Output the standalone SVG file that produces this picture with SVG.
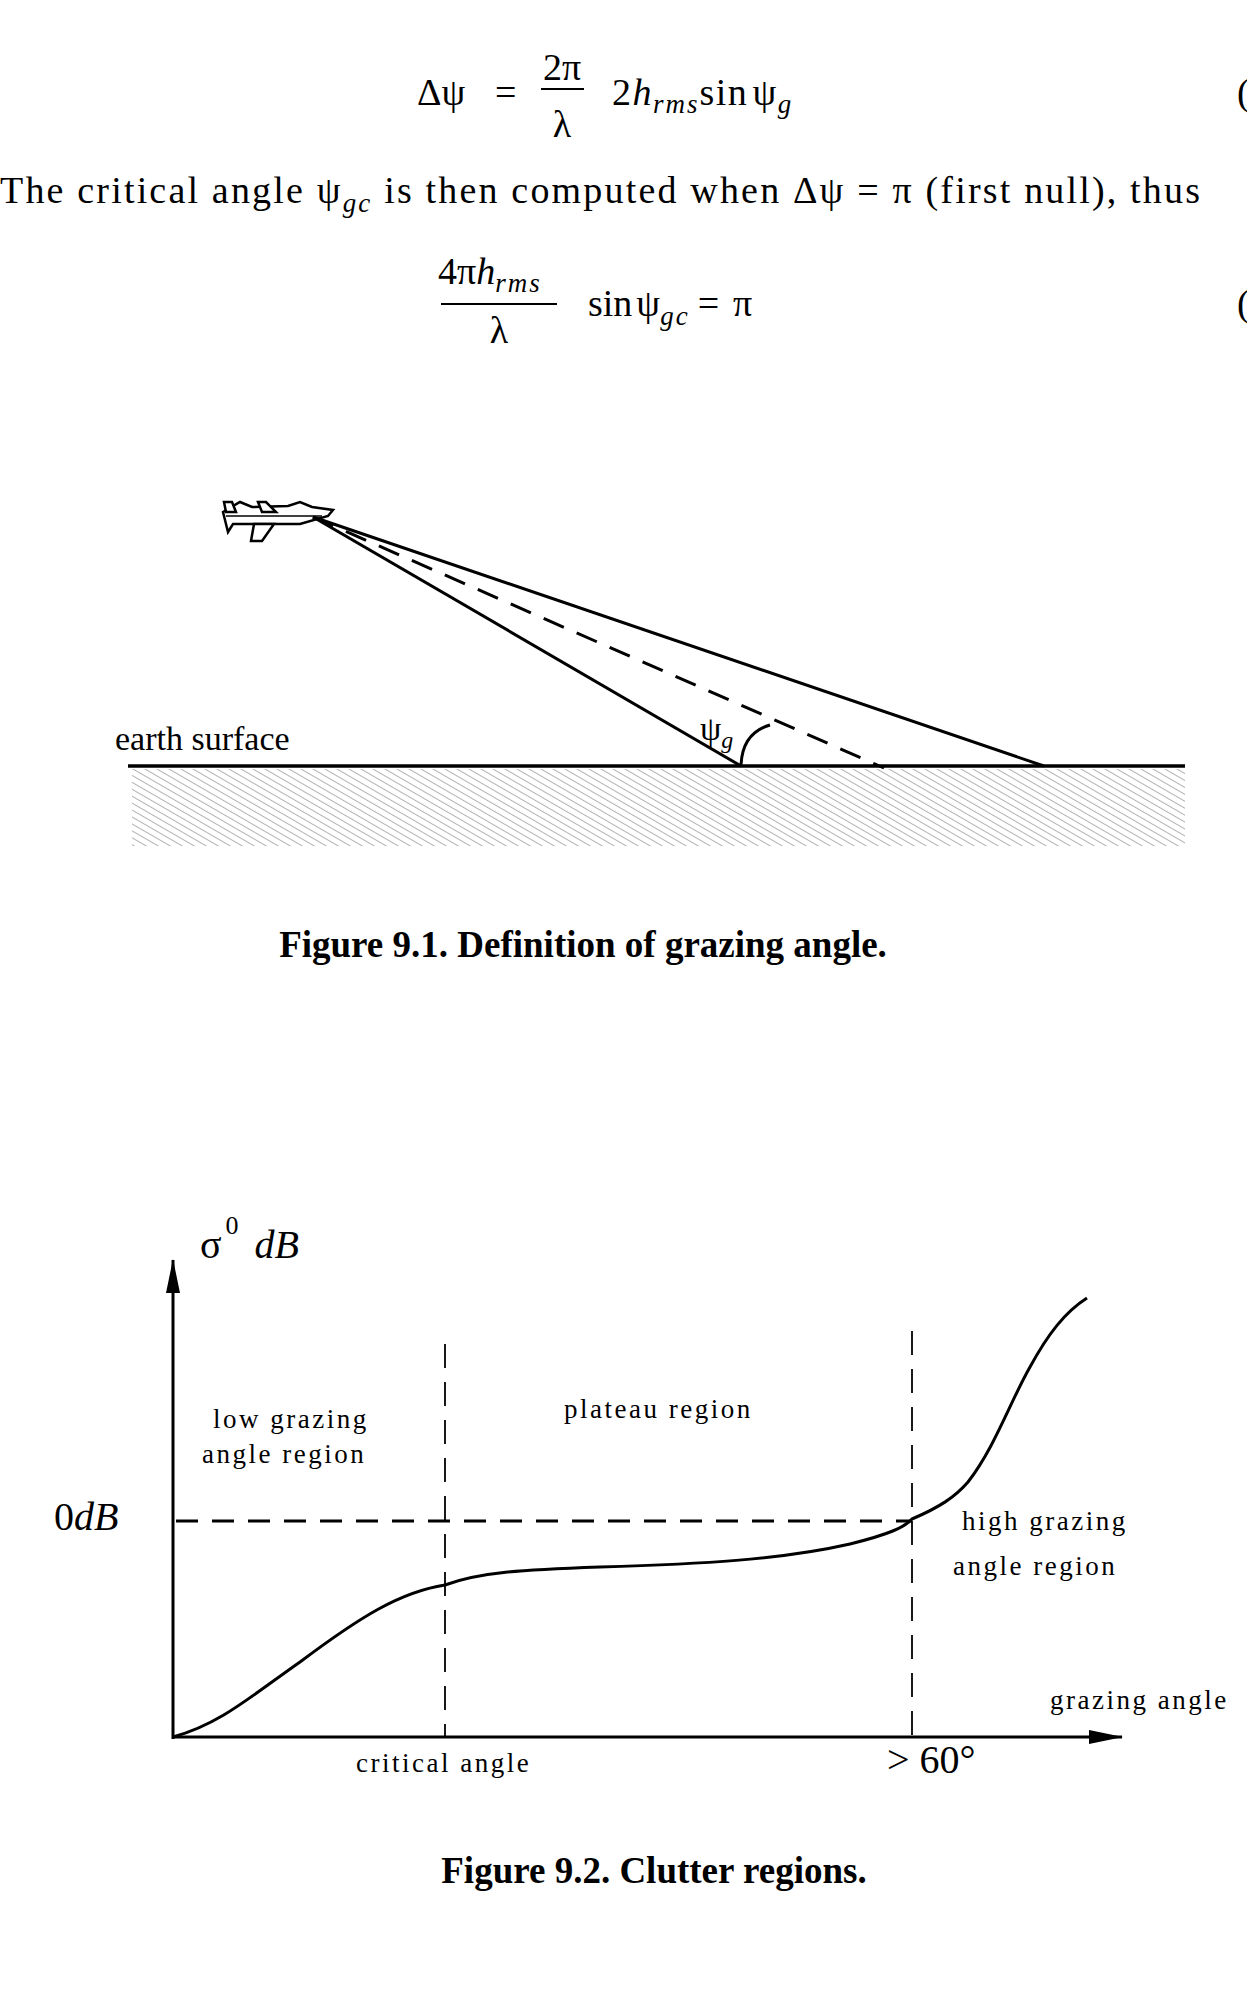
<svg xmlns="http://www.w3.org/2000/svg" width="1247" height="2004" viewBox="0 0 1247 2004">
<defs>
<style>
.t{font-family:"Liberation Serif",serif;fill:#000}
.i{font-style:italic}
.s{font-family:"Liberation Serif",serif;font-size:27px;letter-spacing:2.5px}
.ln{stroke:#000;stroke-width:3;fill:none}
.dl{stroke:#000;stroke-width:3;fill:none;stroke-dasharray:22,14}
.dv{stroke:#000;stroke-width:1.8;fill:none;stroke-dasharray:24,14}
</style>
<pattern id="h" width="6" height="6" patternUnits="userSpaceOnUse" patternTransform="rotate(-60)">
<line x1="0" y1="0" x2="0" y2="6" stroke="#666" stroke-width="1"/>
</pattern>
<marker id="au" markerWidth="34" markerHeight="14" refX="33" refY="7" orient="auto" markerUnits="userSpaceOnUse"><path d="M0,0 L34,7 L0,14 Z" fill="#000"/></marker>
</defs>
<rect width="1247" height="2004" fill="#fff"/>

<g id="equations" class="t" font-size="38">
<text x="417" y="105">Δψ</text>
<text x="495" y="105">=</text>
<text x="562" y="80" text-anchor="middle">2π</text>
<line x1="541" y1="89" x2="584" y2="89" stroke="#000" stroke-width="2"/>
<text x="562" y="137" text-anchor="middle">λ</text>
<text x="612" y="105" letter-spacing="1.5">2<tspan class="i">h</tspan><tspan class="i" font-size="27" dy="8" letter-spacing="2">rms</tspan><tspan dy="-8">sin</tspan><tspan dx="4">ψ</tspan><tspan class="i" font-size="27" dy="8">g</tspan></text>
<text x="1237" y="105">(</text>
<text x="0" y="203" textLength="1200" lengthAdjust="spacing">The critical angle ψ<tspan class="i" font-size="27" dy="9">gc</tspan><tspan dy="-9">  is then computed when Δψ  =  π  (first null), thus</tspan></text>
<text x="438" y="284">4π<tspan class="i">h</tspan><tspan class="i" font-size="27" dy="8" letter-spacing="2">rms</tspan></text>
<line x1="441" y1="304" x2="557" y2="304" stroke="#000" stroke-width="2"/>
<text x="499" y="343" text-anchor="middle">λ</text>
<text x="588" y="316">sin<tspan dx="4">ψ</tspan><tspan class="i" font-size="27" dy="9" letter-spacing="2">gc</tspan><tspan dy="-9" dx="8">=</tspan><tspan dx="14">π</tspan></text>
<text x="1237" y="316">(</text>
</g>

<g id="figure1">
<rect x="132" y="769" width="1053" height="77" fill="url(#h)"/>
<line x1="128" y1="766" x2="1185" y2="766" stroke="#000" stroke-width="3.5"/>
<g id="plane" stroke="#000" stroke-width="2.5" fill="#fff">
<path d="M223,512 L228,532 L233,524 L300,524 L328,516 L333,510 L312,507 L300,502 L288,506 L252,507 L240,502 Z"/>
<path d="M224,502 L232,502 L236,512 L226,512 Z"/>
<path d="M258,502 L266,502 L276,512 L262,512 Z"/>
<path d="M254,524 L274,524 L262,541 L251,541 Z"/>
<line x1="226" y1="516" x2="322" y2="516" stroke-width="1.5"/>
</g>
<line class="ln" x1="313" y1="517" x2="741" y2="766"/>
<line class="ln" x1="313" y1="517" x2="1044" y2="766"/>
<line class="dl" x1="313" y1="517" x2="884" y2="768"/>
<path class="ln" d="M741,766 Q742,733 770,725"/>
<text class="t" x="700" y="740" font-size="34">ψ<tspan class="i" font-size="24" dy="8">g</tspan></text>
<text class="t" x="115" y="750" font-size="34">earth surface</text>
<text class="t" x="583" y="957" font-size="37" font-weight="bold" text-anchor="middle">Figure 9.1. Definition of grazing angle.</text>
</g>

<g id="figure2" transform="translate(0,-8)">
<g id="axes">
<line class="ln" x1="173" y1="1747" x2="173" y2="1268" stroke-width="2.5" marker-end="url(#au)"/>
<line class="ln" x1="172" y1="1745" x2="1122" y2="1745" stroke-width="2.5" marker-end="url(#au)"/>
</g>
<line class="dv" x1="445" y1="1352" x2="445" y2="1745"/>
<line class="dv" x1="912" y1="1339" x2="912" y2="1745"/>
<line class="dl" x1="176" y1="1529" x2="912" y2="1529" stroke-dasharray="26,14"/>
<path class="ln" d="M173,1745 C220,1732 250,1705 300,1670 C360,1625 400,1600 445,1593 C480,1580 520,1578 600,1575 C700,1572 780,1568 850,1552 C890,1542 905,1535 912,1527 C940,1515 955,1505 968,1490 C995,1455 1010,1410 1030,1375 C1048,1342 1065,1320 1087,1306"/>
<text class="t" x="200" y="1266" font-size="40">σ<tspan font-size="26" dy="-24" dx="4">0</tspan><tspan class="i" dy="24" dx="16">dB</tspan></text>
<text class="t" x="54" y="1538" font-size="40">0<tspan class="i">dB</tspan></text>
<text class="s" x="213" y="1436">low grazing</text>
<text class="s" x="202" y="1471">angle region</text>
<text class="s" x="564" y="1426">plateau region</text>
<text class="s" x="962" y="1538">high grazing</text>
<text class="s" x="953" y="1583">angle region</text>
<text class="s" x="1050" y="1717">grazing angle</text>
<text class="s" x="356" y="1780">critical angle</text>
<text class="t" x="887" y="1781" font-size="40">&gt; 60°</text>
<text class="t" x="654" y="1891" font-size="37" font-weight="bold" text-anchor="middle">Figure 9.2. Clutter regions.</text>
</g>
</svg>
